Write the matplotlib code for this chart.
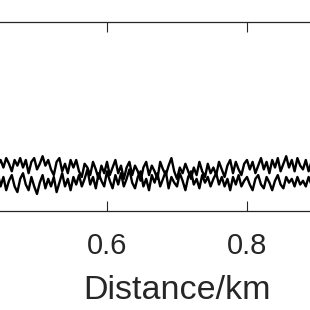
import numpy as np
import matplotlib
matplotlib.use("Agg")
import matplotlib.pyplot as plt

# Datos (unidades arbitrarias en el eje y)
distancia = np.linspace(0.44, 0.896, 115)

traza_superior = [
    2.8, 2.4, 2.7, 2.3, 2.8, 2.5, 2.1, 2.7, 2.4, 2.8,
    2.3, 2.7, 2.0, 2.6, 2.8, 2.2, 2.5, 2.9, 2.4, 2.7,
    2.2, 1.9, 2.6, 2.8, 2.1, 2.5, 2.0, 2.7, 2.3, 2.7,
    2.1, 1.8, 2.5, 2.3, 1.9, 2.6, 2.2, 1.7, 2.4, 2.0,
    2.6, 1.9, 2.3, 2.7, 2.0, 2.4, 1.7, 2.3, 2.6, 1.9,
    2.4, 2.1, 1.6, 2.3, 2.6, 1.9, 2.4, 2.1, 1.7, 2.6,
    2.2, 1.9, 2.4, 2.8, 2.1, 1.7, 2.3, 2.0, 2.5, 2.1,
    1.7, 2.3, 1.9, 2.6, 2.1, 1.8, 2.5, 2.0, 2.3, 1.9,
    2.6, 2.2, 1.8, 2.4, 2.7, 2.0, 2.6, 2.2, 1.9, 2.5,
    2.7, 2.2, 2.6, 2.0, 2.4, 2.8, 2.2, 2.6, 2.0, 2.7,
    2.3, 2.8, 2.1, 2.5, 2.9, 2.3, 2.7, 2.1, 2.8, 2.4,
    2.2, 2.7, 2.1, 2.6, 2.3,
]

traza_inferior = [
    1.6, 2.0, 1.3, 1.8, 1.1, 1.6, 1.9, 1.3, 1.0, 1.7,
    2.0, 1.4, 1.1, 1.8, 1.3, 0.9, 1.5, 1.9, 1.2, 1.7,
    1.3, 1.8, 1.0, 1.5, 2.0, 1.3, 1.7, 1.1, 1.8, 1.4,
    1.9, 1.3, 1.7, 2.2, 1.4, 1.8, 1.2, 2.0, 1.6, 1.3,
    2.1, 1.6, 1.2, 1.9, 1.4, 2.0, 1.3, 1.7, 2.2, 1.5,
    1.2, 1.8, 2.1, 1.3, 1.7, 1.1, 1.9, 1.5, 2.0, 1.3,
    1.7, 2.1, 1.2, 1.8, 1.5, 1.3, 2.0, 1.6, 1.1, 1.8,
    2.1, 1.4, 1.7, 1.2, 1.9, 1.5, 1.8, 1.3, 1.7, 2.0,
    1.4, 1.8, 1.3, 1.7, 1.1, 1.8, 1.4, 1.9, 1.3, 1.6,
    1.8, 1.4, 1.1, 1.7, 1.9, 1.4, 1.2, 1.8, 1.5, 1.1,
    1.6, 1.9, 1.4, 1.2, 1.8, 1.5, 1.7, 1.3, 1.8, 1.4,
    1.6, 1.3, 1.8, 1.4, 1.6,
]

ticks_x = [0.6, 0.8]
gris = '#262626'

plt.rcParams['font.family'] = ['Liberation Sans', 'DejaVu Sans']

fig = plt.figure(figsize=(3.1, 3.1), dpi=100)
# el eje se sale de la figura (recorte del original)
ax = fig.add_axes([-33 / 310, 99 / 310, 420 / 310, 189 / 310])

ax.plot(distancia, traza_superior, color='black', linewidth=1.7)
ax.plot(distancia, traza_inferior, color='black', linewidth=1.7)

ax.set_xlim(0.4, 1.0)
ax.set_ylim(0, 10)
ax.set_xticks(ticks_x)
ax.set_xticklabels(['0.6', '0.8'])
ax.set_yticks([])
ax.tick_params(axis='x', direction='in', length=7, width=0.8, colors=gris,
               labelsize=21, pad=15, top=True)
for lado in ax.spines.values():
    lado.set_color(gris)
    lado.set_linewidth(0.9)

ax.set_xlabel('Distance/km', fontsize=24.5, color=gris, labelpad=11)

fig.savefig('out.png', dpi=100)
